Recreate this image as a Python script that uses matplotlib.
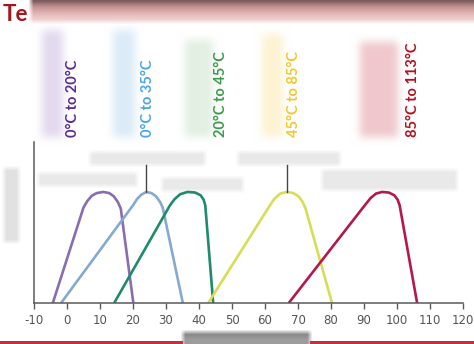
import numpy as np
import matplotlib.pyplot as plt

# growth curves: temperature (C) vs relative growth rate
temps_psychro = [-4.3, 5.0, 6.2, 7.5, 9.0, 11.0, 12.8, 14.2, 15.4, 16.3, 20.1]
rate_psychro = [0, 0.86, 0.92, 0.965, 0.99, 1.0, 0.99, 0.96, 0.91, 0.85, 0]
temps_psychrotroph = [-1.8, 20.0, 21.2, 22.5, 24.0, 25.6, 27.0, 28.2, 29.0, 35.1]
rate_psychrotroph = [0, 0.88, 0.935, 0.975, 1.0, 0.99, 0.96, 0.91, 0.86, 0]
temps_meso = [14.3, 31.2, 32.6, 34.3, 36.5, 38.8, 40.5, 41.4, 41.9, 44.3]
rate_meso = [0, 0.88, 0.935, 0.98, 1.0, 0.995, 0.97, 0.93, 0.88, 0]
temps_thermo = [42.8, 61.5, 62.9, 64.6, 66.7, 68.6, 70.2, 71.4, 72.3, 80.3]
rate_thermo = [0, 0.88, 0.94, 0.985, 1.0, 0.99, 0.96, 0.91, 0.85, 0]
temps_hyper = [67.2, 90.5, 92.0, 93.6, 95.5, 97.5, 99.2, 100.2, 100.8, 106.1]
rate_hyper = [0, 0.89, 0.945, 0.985, 1.0, 0.995, 0.97, 0.93, 0.88, 0]

range_labels = ['0°C to 20°C', '0°C to 35°C', '20°C to 45°C', '45°C to 85°C', '85°C to 113°C']
range_colors = ['#5a2d91', '#4ba6e6', '#3d9b4c', '#f2c832', '#b3121f']
curve_colors = ['#8a6cb0', '#86a9cf', '#1f8a6c', '#d6de55', '#b5184a']
xticks = list(range(-10, 121, 10))

W, H = 474, 344
fig = plt.figure(figsize=(W / 100, H / 100), dpi=100)


def box_blur(a, r):
    k = 2 * r + 1
    p = np.pad(a, ((r, r), (r, r), (0, 0)), mode='edge')
    c = np.cumsum(p, axis=0)
    c = np.concatenate([np.zeros((1,) + c.shape[1:]), c], axis=0)
    p = (c[k:] - c[:-k]) / k
    c = np.cumsum(p, axis=1)
    c = np.concatenate([np.zeros((c.shape[0], 1, 3)), c], axis=1)
    return (c[:, k:] - c[:, :-k]) / k


def hexrgb(h):
    return np.array([int(h[i:i + 2], 16) / 255 for i in (1, 3, 5)])


# background: pale stripes behind the range labels, redacted boxes, header band
img = np.ones((H, W, 3))
for (x0, x1, y0, y1), col in zip([(42, 63, 30, 137), (113, 135, 30, 137), (185, 213, 40, 137),
                                   (262, 283, 34, 137), (360, 398, 42, 137)],
                                  ['#e3d9ef', '#dbebf8', '#e3efe3', '#fdf3d3', '#efc8cc']):
    img[y0:y1, x0:x1] = hexrgb(col)
img = box_blur(img, 4)
img = box_blur(img, 4)

for (x0, x1, y0, y1) in [(90, 205, 152, 165), (238, 340, 152, 165), (38, 137, 173, 186),
                         (162, 243, 178, 191), (322, 457, 170, 190)]:
    img[y0:y1, x0:x1] = hexrgb('#eaeaea')
img[168:242, 4:19] = hexrgb('#e2e2e2')

stops = [0, 0.25, 0.65, 1.0]
stop_cols = np.array([hexrgb(c) for c in ['#735555', '#bf8c8c', '#e6b9b9', '#f3d8d8']])
for i, t in enumerate(np.linspace(0, 1, 22)):
    img[i, 31:] = [np.interp(t, stops, stop_cols[:, j]) for j in range(3)]
img[332:337, 183:310] = hexrgb('#8a8a8a')
img[337:344, 183:310] = hexrgb('#9c9c9c')
img = box_blur(img, 2)
img[341:344, :183] = hexrgb('#c6303a')
img[341:344, 310:] = hexrgb('#c6303a')

bg = fig.add_axes([0, 0, 1, 1])
bg.imshow(np.clip(img, 0, 1), extent=(0, W, H, 0), aspect='auto', interpolation='bilinear')
bg.set_xlim(0, W)
bg.set_ylim(H, 0)
bg.axis('off')

bg.text(3, 21, 'Te', color='#a3171c', fontsize=16, fontweight='bold', family=['Lato', 'DejaVu Sans'])
for x, lab, col in zip([73, 148, 221, 294, 413], range_labels, range_colors):
    bg.text(x, 137, lab, rotation=90, ha='center', va='bottom', color=col,
            fontsize=10.5, fontweight='bold', family=['Lato', 'DejaVu Sans'])

# growth curve panel
ax = fig.add_axes([34 / W, (H - 303) / H, (463 - 34) / W, (303 - 142) / H])
ax.patch.set_alpha(0)
ax.set_xlim(-10, 120)
ax.set_ylim(0, 1.45)
for t, r, c in zip([temps_psychro, temps_psychrotroph, temps_meso, temps_thermo, temps_hyper],
                   [rate_psychro, rate_psychrotroph, rate_meso, rate_thermo, rate_hyper],
                   curve_colors):
    ax.plot(t, r, color=c, lw=1.9, solid_joinstyle='round', solid_capstyle='butt')

# pointers up to the labels
ax.plot([24, 24], [1.0, 1.24], color='#444444', lw=1)
ax.plot([66.7, 66.7], [1.0, 1.24], color='#444444', lw=1)

for s in ['top', 'right']:
    ax.spines[s].set_visible(False)
for s in ['left', 'bottom']:
    ax.spines[s].set_color('#5a5a5a')
    ax.spines[s].set_linewidth(1.1)
ax.set_yticks([])
ax.set_xticks(xticks)
ax.set_xticklabels([str(v) for v in xticks])
ax.tick_params(axis='x', direction='out', length=4, width=1, color='#5a5a5a',
               labelsize=8.5, labelcolor='#555555', pad=4)

fig.savefig('out.png', dpi=100)
